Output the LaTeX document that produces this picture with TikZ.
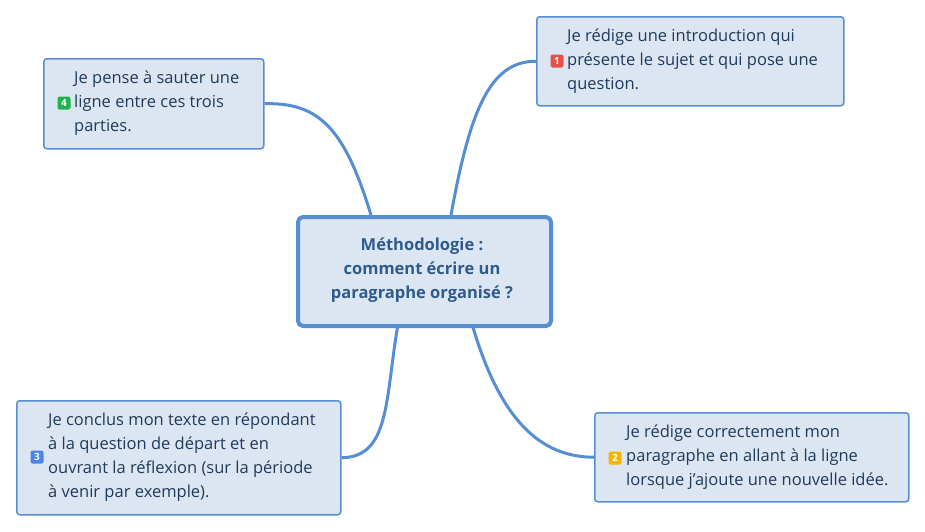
\documentclass[tikz,border=0pt]{standalone}
\usepackage{fontspec}
\setmainfont{Open Sans}
\definecolor{bfill}{HTML}{DCE6F2}
\definecolor{bline}{HTML}{558ED5}
\definecolor{ttext}{HTML}{1F3B5C}
\definecolor{ctext}{HTML}{2E5A8C}
\tikzset{
  box/.style={draw=bline,fill=bfill,line width=1.5pt,rounded corners=3pt},
  cbox/.style={draw=bline,fill=bfill,line width=4pt,rounded corners=5pt},
  txt/.style={anchor=west,inner sep=0pt,text=ttext,font=\fontsize{16.5}{24}\selectfont,align=left},
  badge/.style={fill=#1,rounded corners=2pt,minimum size=13pt,inner sep=0pt,text=white,font=\fontsize{10}{10}\selectfont\bfseries},
  con/.style={draw=bline,line width=3pt}
}
\begin{document}
\begin{tikzpicture}[x=1pt,y=-1pt]
\useasboundingbox (0,0) rectangle (925,531);
% boxes
\node[box,minimum width=307pt,minimum height=89pt,anchor=north west] (b1) at (536,16) {};
\node[box,minimum width=220pt,minimum height=90pt,anchor=north west] (b4) at (43,58) {};
\node[box,minimum width=324pt,minimum height=114pt,anchor=north west] (b3) at (16,400) {};
\node[box,minimum width=314pt,minimum height=89pt,anchor=north west] (b2) at (594,412) {};
% connectors
\draw[con] (371,215) coordinate (c4) .. controls (345,130) and (320,102) .. (b4.east);
\draw[con] (451,215) coordinate (c1) .. controls (470,110) and (490,61) .. (b1.west);
\draw[con] (398,324) coordinate (c3) .. controls (385,400) and (390,457) .. (b3.east);
\draw[con] (472,324) coordinate (c2) .. controls (500,420) and (540,457) .. (b2.west);
\node[cbox,minimum width=253pt,minimum height=109pt,anchor=north west] (c) at (296,215) {};
\node[inner sep=0pt,align=center,text=ctext,font=\fontsize{16.5}{24}\selectfont\bfseries] (ct) at (422,270) {Méthodologie :\\comment écrire un\\paragraphe organisé ?};
% texts
\node[txt] (t1) at (567,61) {Je rédige une introduction qui\\présente le sujet et qui pose une\\question.};
\node[txt] (t4) at (74,103) {Je pense à sauter une\\ligne entre ces trois\\parties.};
\node[txt] (t3) at (48,457) {Je conclus mon texte en répondant\\à la question de départ et en\\ouvrant la réflexion (sur la période\\à venir par exemple).};
\node[txt] (t2) at (626,457) {Je rédige correctement mon\\paragraphe en allant à la ligne\\lorsque j’ajoute une nouvelle idée.};
% badges
\definecolor{bred}{HTML}{E8504A}
\definecolor{bgreen}{HTML}{22B24C}
\definecolor{bblue}{HTML}{4A86E8}
\definecolor{borange}{HTML}{F5B400}
\node[badge=bred] (k1) at (557,61) {1};
\node[badge=bgreen] (k4) at (64,103) {4};
\node[badge=bblue] (k3) at (37,457) {3};
\node[badge=borange] (k2) at (615,458) {2};
\end{tikzpicture}
\end{document}
